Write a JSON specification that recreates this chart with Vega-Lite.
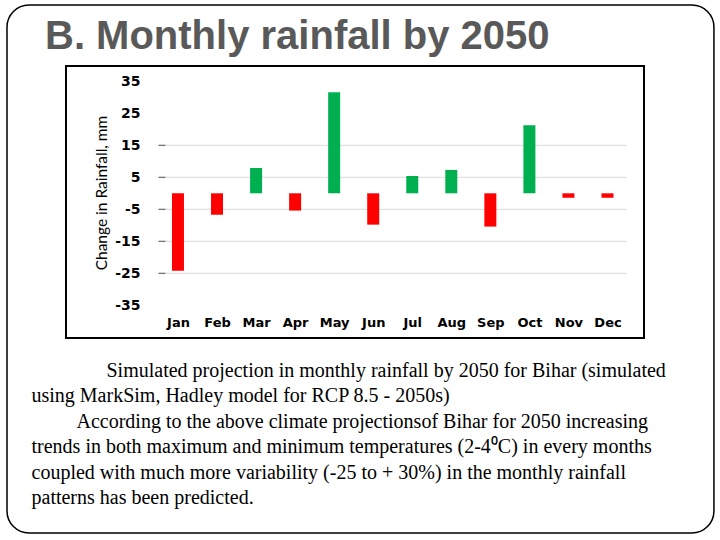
{
  "$schema": "https://vega.github.io/schema/vega-lite/v6.json",
  "width": 578,
  "height": 272,
  "autosize": {"type": "none"},
  "padding": {"left": 66, "top": 66, "right": 76, "bottom": 202},
  "background": "white",
  "title": {
    "text": "B. Monthly rainfall by 2050",
    "anchor": "start",
    "frame": "group",
    "dx": -21,
    "dy": 84.75,
    "offset": 0,
    "baseline": "alphabetic",
    "font": "Liberation Sans",
    "fontSize": 40,
    "fontWeight": "bold",
    "color": "#595959"
  },
  "config": {"view": {"stroke": "#000000", "strokeWidth": 2}, "axis": {"labelOverlap": false, "labelSeparation": -100}},
  "datasets": {
    "months": [
      {"i": 1, "month": "Jan", "change": -24.2},
      {"i": 2, "month": "Feb", "change": -6.7},
      {"i": 3, "month": "Mar", "change": 7.9},
      {"i": 4, "month": "Apr", "change": -5.4},
      {"i": 5, "month": "May", "change": 31.6},
      {"i": 6, "month": "Jun", "change": -9.8},
      {"i": 7, "month": "Jul", "change": 5.4},
      {"i": 8, "month": "Aug", "change": 7.3},
      {"i": 9, "month": "Sep", "change": -10.4},
      {"i": 10, "month": "Oct", "change": 21.3},
      {"i": 11, "month": "Nov", "change": -1.4},
      {"i": 12, "month": "Dec", "change": -1.4}
    ],
    "grid": [{"v": 15}, {"v": 5}, {"v": -5}, {"v": -15}, {"v": -25}]
  },
  "layer": [
    {
      "data": {"values": [{}]},
      "mark": {"type": "rect", "fill": null, "fillOpacity": 0, "stroke": "#000000", "strokeWidth": 1.5, "cornerRadius": 22},
      "encoding": {
        "x": {"datum": -3.379, "type": "quantitative", "scale": {"domain": [-1.868, 12.935], "nice": false, "zero": false, "padding": 0}},
        "x2": {"datum": 14.726},
        "y": {"datum": 58.84, "type": "quantitative", "scale": {"domain": [-45.22, 39.78], "nice": false, "zero": false, "padding": 0}},
        "y2": {"datum": -106.16}
      }
    },
    {
      "data": {"name": "grid"},
      "mark": {"type": "rule", "color": "#d9d9d9", "strokeWidth": 1},
      "encoding": {
        "x": {"datum": 0.5, "type": "quantitative", "scale": {"domain": [-1.868, 12.935], "nice": false, "zero": false, "padding": 0}},
        "x2": {"datum": 12.5},
        "y": {"field": "v", "type": "quantitative", "scale": {"domain": [-45.22, 39.78], "nice": false, "zero": false, "padding": 0}}
      }
    },
    {
      "data": {"name": "grid"},
      "mark": {"type": "rule", "color": "#595959", "strokeWidth": 1},
      "encoding": {
        "x": {"datum": 0.5, "type": "quantitative", "scale": {"domain": [-1.868, 12.935], "nice": false, "zero": false, "padding": 0}},
        "x2": {"datum": 0.68},
        "y": {"field": "v", "type": "quantitative", "scale": {"domain": [-45.22, 39.78], "nice": false, "zero": false, "padding": 0}}
      }
    },
    {
      "data": {"name": "months"},
      "mark": {"type": "bar", "width": 12},
      "encoding": {
        "x": {
          "field": "i",
          "type": "quantitative",
          "scale": {"domain": [-1.868, 12.935], "nice": false, "zero": false, "padding": 0},
          "axis": {
            "orient": "bottom",
            "offset": -35,
            "values": [1, 2, 3, 4, 5, 6, 7, 8, 9, 10, 11, 12],
            "labelExpr": "['Jan','Feb','Mar','Apr','May','Jun','Jul','Aug','Sep','Oct','Nov','Dec'][datum.value - 1]",
            "domain": false,
            "ticks": false,
            "tickSize": 0,
            "grid": false,
            "labelFont": "DejaVu Sans",
            "labelFontWeight": "bold",
            "labelFontSize": 13,
            "labelColor": "#000000",
            "labelPadding": 19.5,
            "labelBaseline": "middle",
            "labelFlush": false,
            "labelOverlap": false,
            "title": [
              "\u200b\u00a0\u00a0\u00a0\u00a0\u00a0\u00a0\u00a0\u00a0\u00a0\u00a0\u00a0\u00a0\u00a0\u00a0\u00a0Simulated projection in monthly rainfall by 2050 for Bihar (simulated",
              "using MarkSim, Hadley model for RCP 8.5 - 2050s)",
              "\u200b\u00a0\u00a0\u00a0\u00a0\u00a0\u00a0\u00a0\u00a0\u00a0According to the above climate projectionsof Bihar for 2050 increasing",
              "trends in both maximum and minimum temperatures (2-4\u2070C) in every months",
              "coupled with much more variability (-25 to + 30%) in the monthly rainfall",
              "patterns has been predicted."
            ],
            "titleFont": "Liberation Serif",
            "titleFontSize": 20,
            "titleFontWeight": "normal",
            "titleColor": "#000000",
            "titleX": -35,
            "titleY": 73,
            "titleAlign": "left",
            "titleAnchor": "start",
            "titleBaseline": "alphabetic",
            "titleLineHeight": 25.5,
            "titleAngle": 0,
            "titleLimit": 2000
          }
        },
        "y": {
          "field": "change",
          "type": "quantitative",
          "scale": {"domain": [-45.22, 39.78], "nice": false, "zero": false, "padding": 0},
          "axis": {
            "orient": "left",
            "offset": -92.5,
            "values": [-35, -25, -15, -5, 5, 15, 25, 35],
            "tickCount": 8,
            "labelExpr": "'' + datum.value",
            "domain": false,
            "ticks": false,
            "tickSize": 0,
            "grid": false,
            "labelPadding": 18.5,
            "labelFont": "DejaVu Sans",
            "labelFontWeight": "bold",
            "labelFontSize": 14,
            "labelColor": "#000000",
            "labelFlush": false,
            "labelOverlap": false,
            "labelSeparation": -100,
            "title": "Change in Rainfall, mm",
            "titleFont": "Lato",
            "titleFontSize": 15.5,
            "titleFontWeight": "normal",
            "titleColor": "#000000",
            "titleX": -52.5,
            "titleY": 126.5,
            "titleAngle": -90,
            "titleAlign": "center",
            "titleBaseline": "alphabetic",
            "titleLimit": 1000
          }
        },
        "y2": {"datum": 0},
        "color": {
          "condition": {"test": "datum.change > 0", "value": "#00b050"},
          "value": "#ff0000"
        }
      }
    }
  ]
}
